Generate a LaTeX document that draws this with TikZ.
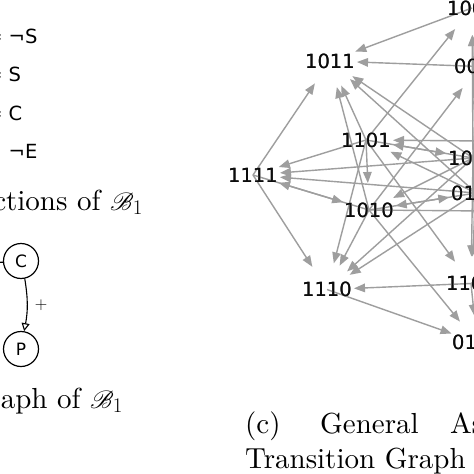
\documentclass[tikz,border=0pt]{standalone}
\usepackage{fontspec}
\usepackage{mathrsfs}
\usetikzlibrary{arrows.meta}
\newfontfamily\dejavu{DejaVu Sans}
\newfontfamily\capfont{lmroman10-regular}[Extension=.otf]
\definecolor{edgegray}{RGB}{158,158,158}
\definecolor{labblack}{RGB}{12,12,12}
\begin{document}
\begin{tikzpicture}[x=1pt,y=-1pt,
  lab/.style={font=\dejavu\fontsize{19.5}{19.5}\selectfont, inner sep=0pt, text=labblack},
  tr/.style={draw=edgegray, line width=1.4pt, -{Triangle[length=11pt,width=8.5pt]}, shorten >=27pt},
  fn/.style={font=\dejavu\fontsize{19.5}{20}\selectfont, inner sep=0pt, anchor=base west},
  captext/.style={font=\capfont\fontsize{29}{35}\selectfont, inner sep=0pt},
  varnode/.style={draw, circle, minimum size=35pt, inner sep=0pt, line width=1.2pt, font=\dejavu\fontsize{17}{17}\selectfont},
]
\useasboundingbox (0,0) rectangle (474,474);
\fill[white] (0,0) rectangle (474,474);
\clip (0,0) rectangle (474,474);

% ---------- (a) local functions ----------
\node[fn, anchor=base east] (e1) at (3,43) {=};
\node[fn, anchor=base east] (e2) at (3,81) {=};
\node[fn, anchor=base east] (e3) at (3,120) {=};
\node[fn, anchor=base east] (e4) at (1.5,158) {=};
\node[fn] (f1) at (8.5,43) {¬S};
\node[fn] (f2) at (8.5,81) {S};
\node[fn] (f3) at (8.5,120) {C};
\node[fn] (f4) at (8.5,158) {¬E};
\node[captext, anchor=base east] (capa) at (143,210) {(a) Local Functions of $\mathscr{B}_1$};

% ---------- (b) interaction graph ----------
\node[varnode] (C) at (21,261) {C};
\node[varnode] (P) at (21,349) {P};
\coordinate (S) at (-40,265);
\draw[line width=1.2pt] (S) -- (C);
\draw[line width=1.1pt, -{Triangle[open,length=8pt,width=8pt]}] (C.-78) to[bend left=10] (P.80);
\node[font=\fontsize{19}{19}\selectfont] (plus) at (41,305) {$+$};
\node[captext, anchor=base east] (capb) at (123,408) {(b) Interaction Graph of $\mathscr{B}_1$};

% ---------- (c) transition graph ----------
\node[lab] (n1011) at (330,61) {1011};
\node[lab] (n1001) at (472,8) {1001};
\node[lab] (n0011) at (479,66.5) {0011};
\node[lab] (n1101) at (366,140) {1101};
\node[lab] (n1000) at (473,158) {1000};
\node[lab] (n1111) at (253,175) {1111};
\node[lab] (n0111) at (476,193) {0111};
\node[lab] (n1010) at (369,210) {1010};
\node[lab] (n1110) at (327,289.5) {1110};
\node[lab] (n1100) at (471,283.5) {1100};
\node[lab] (n0110) at (477,342.5) {0110};
\node[lab] (n0101) at (600,142) {0101};
\node[lab] (n0010) at (600,212) {0010};
\node[lab] (n0100) at (650,177) {0100};
\node[lab] (n0000) at (570,90) {0000};
\node[lab] (n0001) at (570,262) {0001};

\foreach \a/\b in {0000/0100, 0000/0001, 0000/0101,
 0001/1001,
 0010/0110, 0010/0000, 0010/0011, 0010/0100, 0010/0111, 0010/0001, 0010/0101,
 0011/1011, 0011/0001, 0011/1001,
 0101/1101, 0101/0001, 0101/0100, 0101/1001, 0101/1100, 0101/0000, 0101/1000,
 0110/0100,
 0111/0000, 0111/0001, 0111/0010, 0111/0011, 0111/0100, 0111/0101, 0111/0110, 0111/1000, 0111/1001, 0111/1010, 0111/1011, 0111/1100, 0111/1101, 0111/1110, 0111/1111,
 1000/0000, 1000/0001, 1000/0010, 1000/0011, 1000/0100, 1000/0101, 1000/0110, 1000/0111, 1000/1001, 1000/1010, 1000/1011, 1000/1100, 1000/1101, 1000/1110, 1000/1111,
 1001/1011,
 1010/0010, 1010/1110, 1010/1011, 1010/0110, 1010/0011, 1010/1111, 1010/0111,
 1100/0100, 1100/1110, 1100/0110,
 1101/1001, 1101/1111, 1101/1100, 1101/1011, 1101/1000, 1101/1110, 1101/1010,
 1110/0110,
 1111/1011, 1111/1110, 1111/1010}
 \draw[tr] (n\a.center) -- (n\b.center);
% labels on top of the edges
\foreach \n/\x/\y in {1011/330/61, 1001/472/8, 0011/479/66.5, 1101/366/140, 1000/473/158, 1111/253/175, 0111/476/193, 1010/369/210, 1110/327/289.5, 1100/471/283.5, 0110/477/342.5}
 \node[lab] (t\n) at (\x,\y) {\n};

\node[captext, anchor=base west] (c1) at (245,433) {(c)};
\node[captext, anchor=base west] (c2) at (320,433) {General};
\node[captext, anchor=base west] (c3) at (450,433) {Asynchronous};
\node[captext, anchor=base west] (c4) at (245,468) {Transition Graph of $\mathscr{B}_1$};
\end{tikzpicture}
\end{document}
